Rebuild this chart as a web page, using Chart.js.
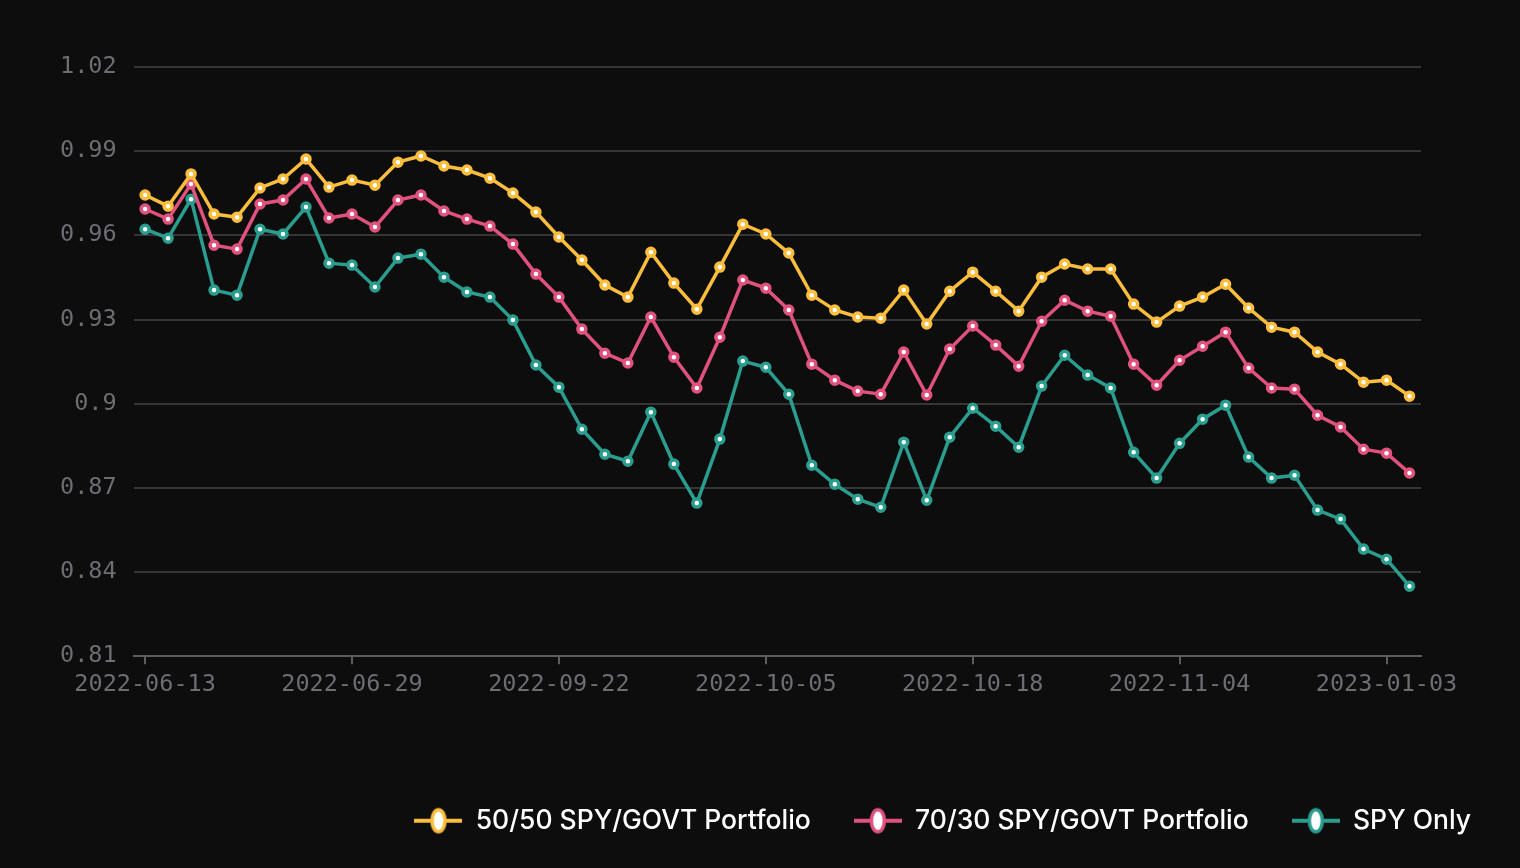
<!DOCTYPE html>
<html>
<head>
<meta charset="utf-8">
<script src="https://cdn.jsdelivr.net/npm/chart.js@4.4.0/dist/chart.umd.min.js"></script>
<style>
  html, body { margin: 0; padding: 0; background: #0d0d0d; }
  canvas { display: block; }
</style>
</head>
<body>
<canvas id="chart" width="1520" height="868"></canvas>
<script>
// tick labels shown on the x axis, one every 9 points
const tickLabels = ["2022-06-13", "2022-06-29", "2022-09-22", "2022-10-05", "2022-10-18", "2022-11-04", "2023-01-03"];

const portfolio5050 = [
  0.9744, 0.9704, 0.9819, 0.9676, 0.9665, 0.9769, 0.9801, 0.9872, 0.9772, 0.9797,
  0.9779, 0.9861, 0.9883, 0.9847, 0.9833, 0.9804, 0.9751, 0.9683, 0.9594, 0.9512,
  0.9423, 0.9380, 0.9540, 0.9430, 0.9337, 0.9487, 0.9640, 0.9605, 0.9537, 0.9387,
  0.9334, 0.9309, 0.9305, 0.9405, 0.9284, 0.9401, 0.9469, 0.9401, 0.9330, 0.9451,
  0.9498, 0.9480, 0.9480, 0.9355, 0.9291, 0.9348, 0.9380, 0.9426, 0.9341, 0.9273,
  0.9255, 0.9184, 0.9141, 0.9077, 0.9084, 0.9027
];

const portfolio7030 = [
  0.9694, 0.9658, 0.9783, 0.9565, 0.9551, 0.9712, 0.9726, 0.9801, 0.9662, 0.9676,
  0.9630, 0.9726, 0.9744, 0.9687, 0.9658, 0.9633, 0.9569, 0.9462, 0.9380, 0.9266,
  0.9180, 0.9145, 0.9309, 0.9166, 0.9056, 0.9237, 0.9441, 0.9412, 0.9334, 0.9141,
  0.9084, 0.9045, 0.9034, 0.9184, 0.9031, 0.9195, 0.9277, 0.9209, 0.9134, 0.9294,
  0.9369, 0.9330, 0.9312, 0.9141, 0.9066, 0.9155, 0.9205, 0.9255, 0.9127, 0.9056,
  0.9052, 0.8959, 0.8917, 0.8838, 0.8824, 0.8753
];

const spyOnly = [
  0.9622, 0.9590, 0.9729, 0.9405, 0.9387, 0.9622, 0.9605, 0.9701, 0.9501, 0.9494,
  0.9416, 0.9519, 0.9533, 0.9451, 0.9398, 0.9380, 0.9298, 0.9138, 0.9059, 0.8909,
  0.8820, 0.8795, 0.8970, 0.8785, 0.8646, 0.8874, 0.9152, 0.9130, 0.9034, 0.8781,
  0.8713, 0.8660, 0.8631, 0.8863, 0.8656, 0.8881, 0.8984, 0.8920, 0.8845, 0.9063,
  0.9173, 0.9102, 0.9056, 0.8827, 0.8735, 0.8859, 0.8945, 0.8995, 0.8810, 0.8735,
  0.8745, 0.8621, 0.8589, 0.8482, 0.8446, 0.8350
];

const seriesNames = ["50/50 SPY/GOVT Portfolio", "70/30 SPY/GOVT Portfolio", "SPY Only"];
const colors = ["#fbbd3c", "#e0527d", "#2a9d8f"];

const labels = portfolio5050.map((_, i) => (i % 9 === 0 ? tickLabels[i / 9] : ""));

// legend marker: short line with a hollow ellipse on it
function legendMarker(color) {
  const c = document.createElement("canvas");
  c.width = 48;
  c.height = 30;
  const g = c.getContext("2d");
  g.strokeStyle = color;
  g.lineWidth = 4;
  g.beginPath();
  g.moveTo(0, 15);
  g.lineTo(48, 15);
  g.stroke();
  g.beginPath();
  g.ellipse(24, 15, 6.5, 11, 0, 0, Math.PI * 2);
  g.fillStyle = "#ffffff";
  g.fill();
  g.lineWidth = 3.5;
  g.stroke();
  return c;
}
const markers = colors.map(legendMarker);

const tickFont = { family: "'DejaVu Sans Mono', monospace", size: 23.5 };
const tickColor = "#6d6d73";

function makeDataset(name, data, color) {
  return {
    label: name,
    data,
    borderColor: color,
    backgroundColor: color,
    borderWidth: 3.5,
    pointRadius: 4,
    pointHoverRadius: 4,
    pointBorderWidth: 3.5,
    pointBorderColor: color,
    pointBackgroundColor: "#ffffff",
    tension: 0
  };
}

new Chart(document.getElementById("chart"), {
  type: "line",
  data: {
    labels,
    datasets: [
      makeDataset(seriesNames[0], portfolio5050, colors[0]),
      makeDataset(seriesNames[1], portfolio7030, colors[1]),
      makeDataset(seriesNames[2], spyOnly, colors[2])
    ]
  },
  options: {
    responsive: false,
    devicePixelRatio: 1,
    animation: false,
    layout: { padding: { left: 43, right: 6, top: 67, bottom: 24 } },
    scales: {
      x: {
        offset: true,
        grid: {
          display: true,
          drawOnChartArea: false,
          drawTicks: true,
          tickLength: 8,
          color: "#5c5c5c",
          lineWidth: 2
        },
        border: { display: true, color: "#5c5c5c", width: 2 },
        ticks: {
          autoSkip: false,
          maxRotation: 0,
          padding: 6,
          color: tickColor,
          font: tickFont,
          callback: function (value, index) {
            const l = labels[index];
            return l ? l : null;
          }
        },
        afterFit(scale) { scale.height += 60; }
      },
      y: {
        min: 0.81,
        max: 1.02,
        grid: { color: "#363636", lineWidth: 2, drawTicks: false },
        border: { display: false },
        ticks: {
          stepSize: 0.03,
          padding: 17,
          color: tickColor,
          font: tickFont,
          callback: v => String(+v.toFixed(2))
        }
      },
      spacer: {
        position: "right",
        display: true,
        grid: { display: false },
        border: { display: false },
        ticks: { display: false },
        afterFit(scale) { scale.width = 93; }
      }
    },
    plugins: {
      tooltip: { enabled: false },
      legend: {
        position: "bottom",
        align: "end",
        labels: {
          usePointStyle: true,
          pointStyleWidth: 48,
          padding: 43,
          color: "#ffffff",
          font: { family: "Inter, 'Noto Sans', sans-serif", size: 26.5, weight: "500" },
          generateLabels(chart) {
            const items = Chart.defaults.plugins.legend.labels.generateLabels(chart);
            items.forEach(it => { it.pointStyle = markers[it.datasetIndex]; });
            return items;
          }
        }
      }
    }
  }
});
</script>
</body>
</html>
